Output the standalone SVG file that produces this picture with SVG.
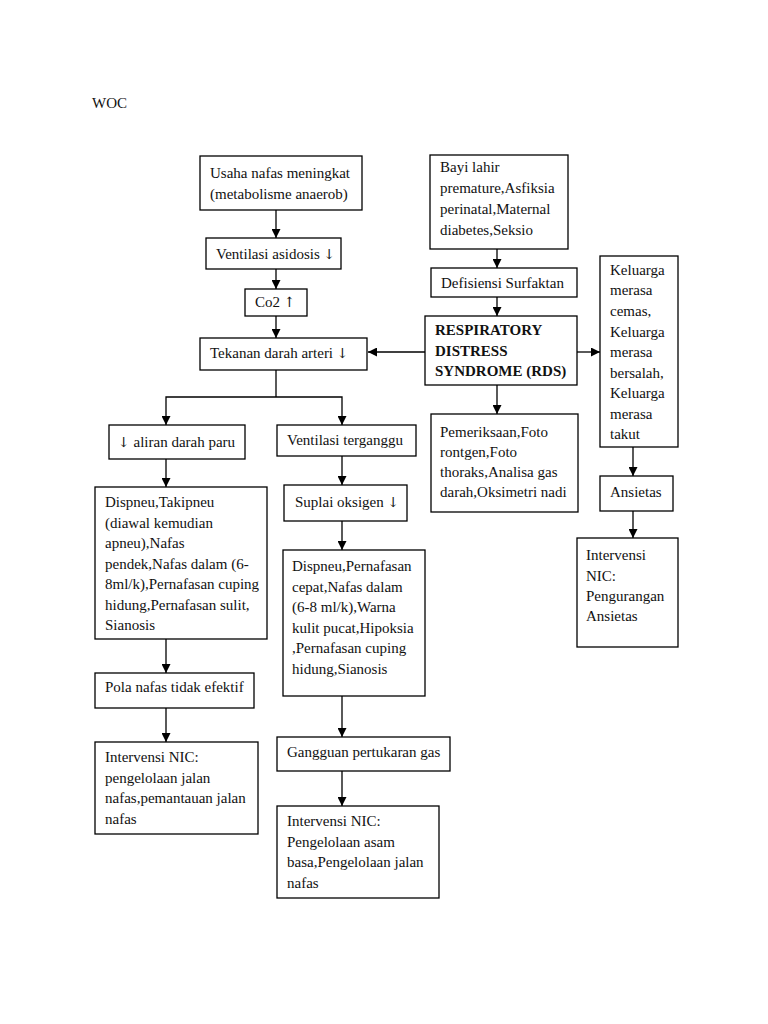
<svg xmlns="http://www.w3.org/2000/svg" width="768" height="1024" viewBox="0 0 768 1024">
<defs>
<marker id="ah" markerUnits="userSpaceOnUse" markerWidth="10" markerHeight="9" refX="9" refY="4.5" orient="auto">
<path d="M0,0 L9,4.5 L0,9 z" fill="#000"/>
</marker>
<style>
rect{fill:#fff;stroke:#000;stroke-width:1.3}
text{font-family:"Liberation Serif","Times New Roman",serif;font-size:15px;fill:#111}
.b{font-weight:bold}
.ar{font-family:"DejaVu Serif",serif;font-size:14px;fill:#111}
#connectors path{fill:none;stroke:#000;stroke-width:1.3}
.a{marker-end:url(#ah)}
</style>
</defs>
<rect x="0" y="0" width="768" height="1024" style="fill:#fff;stroke:none"/>
<text x="92" y="108">WOC</text>

<g id="connectors">
<path class="a" d="M276,210 V238"/>
<path class="a" d="M276,269 V289"/>
<path class="a" d="M276,316 V338"/>
<path d="M276,370 V397"/>
<path class="a" d="M276,397 H166 V425"/>
<path class="a" d="M276,397 H342 V425"/>
<path class="a" d="M166,459 V487"/>
<path class="a" d="M342,456 V485"/>
<path class="a" d="M342,521 V550"/>
<path class="a" d="M166,639 V673"/>
<path class="a" d="M166,708 V742"/>
<path class="a" d="M342,696 V737"/>
<path class="a" d="M342,771 V806"/>
<path class="a" d="M497,249 V268"/>
<path class="a" d="M497,297 V316"/>
<path class="a" d="M425,352 H368"/>
<path class="a" d="M577,352 H600"/>
<path class="a" d="M497,385 V414"/>
<path class="a" d="M633,447 V476"/>
<path class="a" d="M633,511 V538"/>
</g>

<g id="usaha">
<rect x="200" y="156" width="162" height="54"/>
<text x="210" y="178">Usaha nafas meningkat</text>
<text x="210" y="199">(metabolisme anaerob)</text>
</g>
<g id="ventilasi-asidosis">
<rect x="206" y="238" width="135" height="31"/>
<text x="216" y="259">Ventilasi asidosis <tspan class="ar">↓</tspan></text>
</g>
<g id="co2">
<rect x="245" y="289" width="62" height="27"/>
<text x="255" y="307">Co2 <tspan class="ar">↑</tspan></text>
</g>
<g id="tekanan">
<rect x="200" y="338" width="167" height="32"/>
<text x="210" y="358">Tekanan darah arteri <tspan class="ar">↓</tspan></text>
</g>
<g id="aliran">
<rect x="109" y="425" width="136" height="34"/>
<text x="118" y="447"><tspan class="ar">↓</tspan> aliran darah paru</text>
</g>
<g id="ventilasi-terganggu">
<rect x="277" y="425" width="139" height="31"/>
<text x="287" y="445">Ventilasi terganggu</text>
</g>
<g id="dispneu1">
<rect x="95" y="487" width="172" height="152"/>
<text x="105" y="507">Dispneu,Takipneu</text>
<text x="105" y="527.5">(diawal kemudian</text>
<text x="105" y="548">apneu),Nafas</text>
<text x="105" y="568.5">pendek,Nafas dalam (6-</text>
<text x="105" y="589">8ml/k),Pernafasan cuping</text>
<text x="105" y="609.5">hidung,Pernafasan sulit,</text>
<text x="105" y="630">Sianosis</text>
</g>
<g id="suplai">
<rect x="284" y="485" width="123" height="36"/>
<text x="295" y="507">Suplai oksigen <tspan class="ar">↓</tspan></text>
</g>
<g id="dispneu2">
<rect x="283" y="550" width="142" height="146"/>
<text x="292" y="571">Dispneu,Pernafasan</text>
<text x="292" y="591.5">cepat,Nafas dalam</text>
<text x="292" y="612">(6-8 ml/k),Warna</text>
<text x="292" y="632.5">kulit pucat,Hipoksia</text>
<text x="292" y="653">,Pernafasan cuping</text>
<text x="292" y="673.5">hidung,Sianosis</text>
</g>
<g id="pola">
<rect x="95" y="673" width="159" height="35"/>
<text x="105" y="692">Pola nafas tidak efektif</text>
</g>
<g id="nic1">
<rect x="95" y="742" width="163" height="92"/>
<text x="105" y="762">Intervensi NIC:</text>
<text x="105" y="782.5">pengelolaan jalan</text>
<text x="105" y="803">nafas,pemantauan jalan</text>
<text x="105" y="823.5">nafas</text>
</g>
<g id="gangguan">
<rect x="277" y="737" width="173" height="34"/>
<text x="287" y="756.5">Gangguan pertukaran gas</text>
</g>
<g id="nic2">
<rect x="277" y="806" width="162" height="92"/>
<text x="287" y="825.5">Intervensi NIC:</text>
<text x="287" y="846.5">Pengelolaan asam</text>
<text x="287" y="867">basa,Pengelolaan jalan</text>
<text x="287" y="887.5">nafas</text>
</g>
<g id="bayi">
<rect x="430" y="155" width="138" height="94"/>
<text x="440" y="171.5">Bayi lahir</text>
<text x="440" y="192.5">premature,Asfiksia</text>
<text x="440" y="213.5">perinatal,Maternal</text>
<text x="440" y="234.5">diabetes,Seksio</text>
</g>
<g id="defisiensi">
<rect x="431" y="268" width="146" height="29"/>
<text x="441" y="287.5">Defisiensi Surfaktan</text>
</g>
<g id="rds">
<rect x="425" y="316" width="152" height="69"/>
<text class="b" x="435" y="335">RESPIRATORY</text>
<text class="b" x="435" y="355.5">DISTRESS</text>
<text class="b" x="435" y="376">SYNDROME (RDS)</text>
</g>
<g id="pemeriksaan">
<rect x="431" y="414" width="147" height="98"/>
<text x="440" y="437">Pemeriksaan,Foto</text>
<text x="440" y="457">rontgen,Foto</text>
<text x="440" y="477">thoraks,Analisa gas</text>
<text x="440" y="496.5">darah,Oksimetri nadi</text>
</g>
<g id="keluarga">
<rect x="600" y="256" width="78" height="191"/>
<text x="610" y="274.5">Keluarga</text>
<text x="610" y="295">merasa</text>
<text x="610" y="315.5">cemas,</text>
<text x="610" y="336.5">Keluarga</text>
<text x="610" y="357">merasa</text>
<text x="610" y="377.5">bersalah,</text>
<text x="610" y="398">Keluarga</text>
<text x="610" y="418.5">merasa</text>
<text x="610" y="438.5">takut</text>
</g>
<g id="ansietas">
<rect x="600" y="476" width="73" height="35"/>
<text x="610" y="497">Ansietas</text>
</g>
<g id="nic3">
<rect x="577" y="538" width="101" height="109"/>
<text x="586" y="559.5">Intervensi</text>
<text x="586" y="580.5">NIC:</text>
<text x="586" y="600.5">Pengurangan</text>
<text x="586" y="620.5">Ansietas</text>
</g>
</svg>
